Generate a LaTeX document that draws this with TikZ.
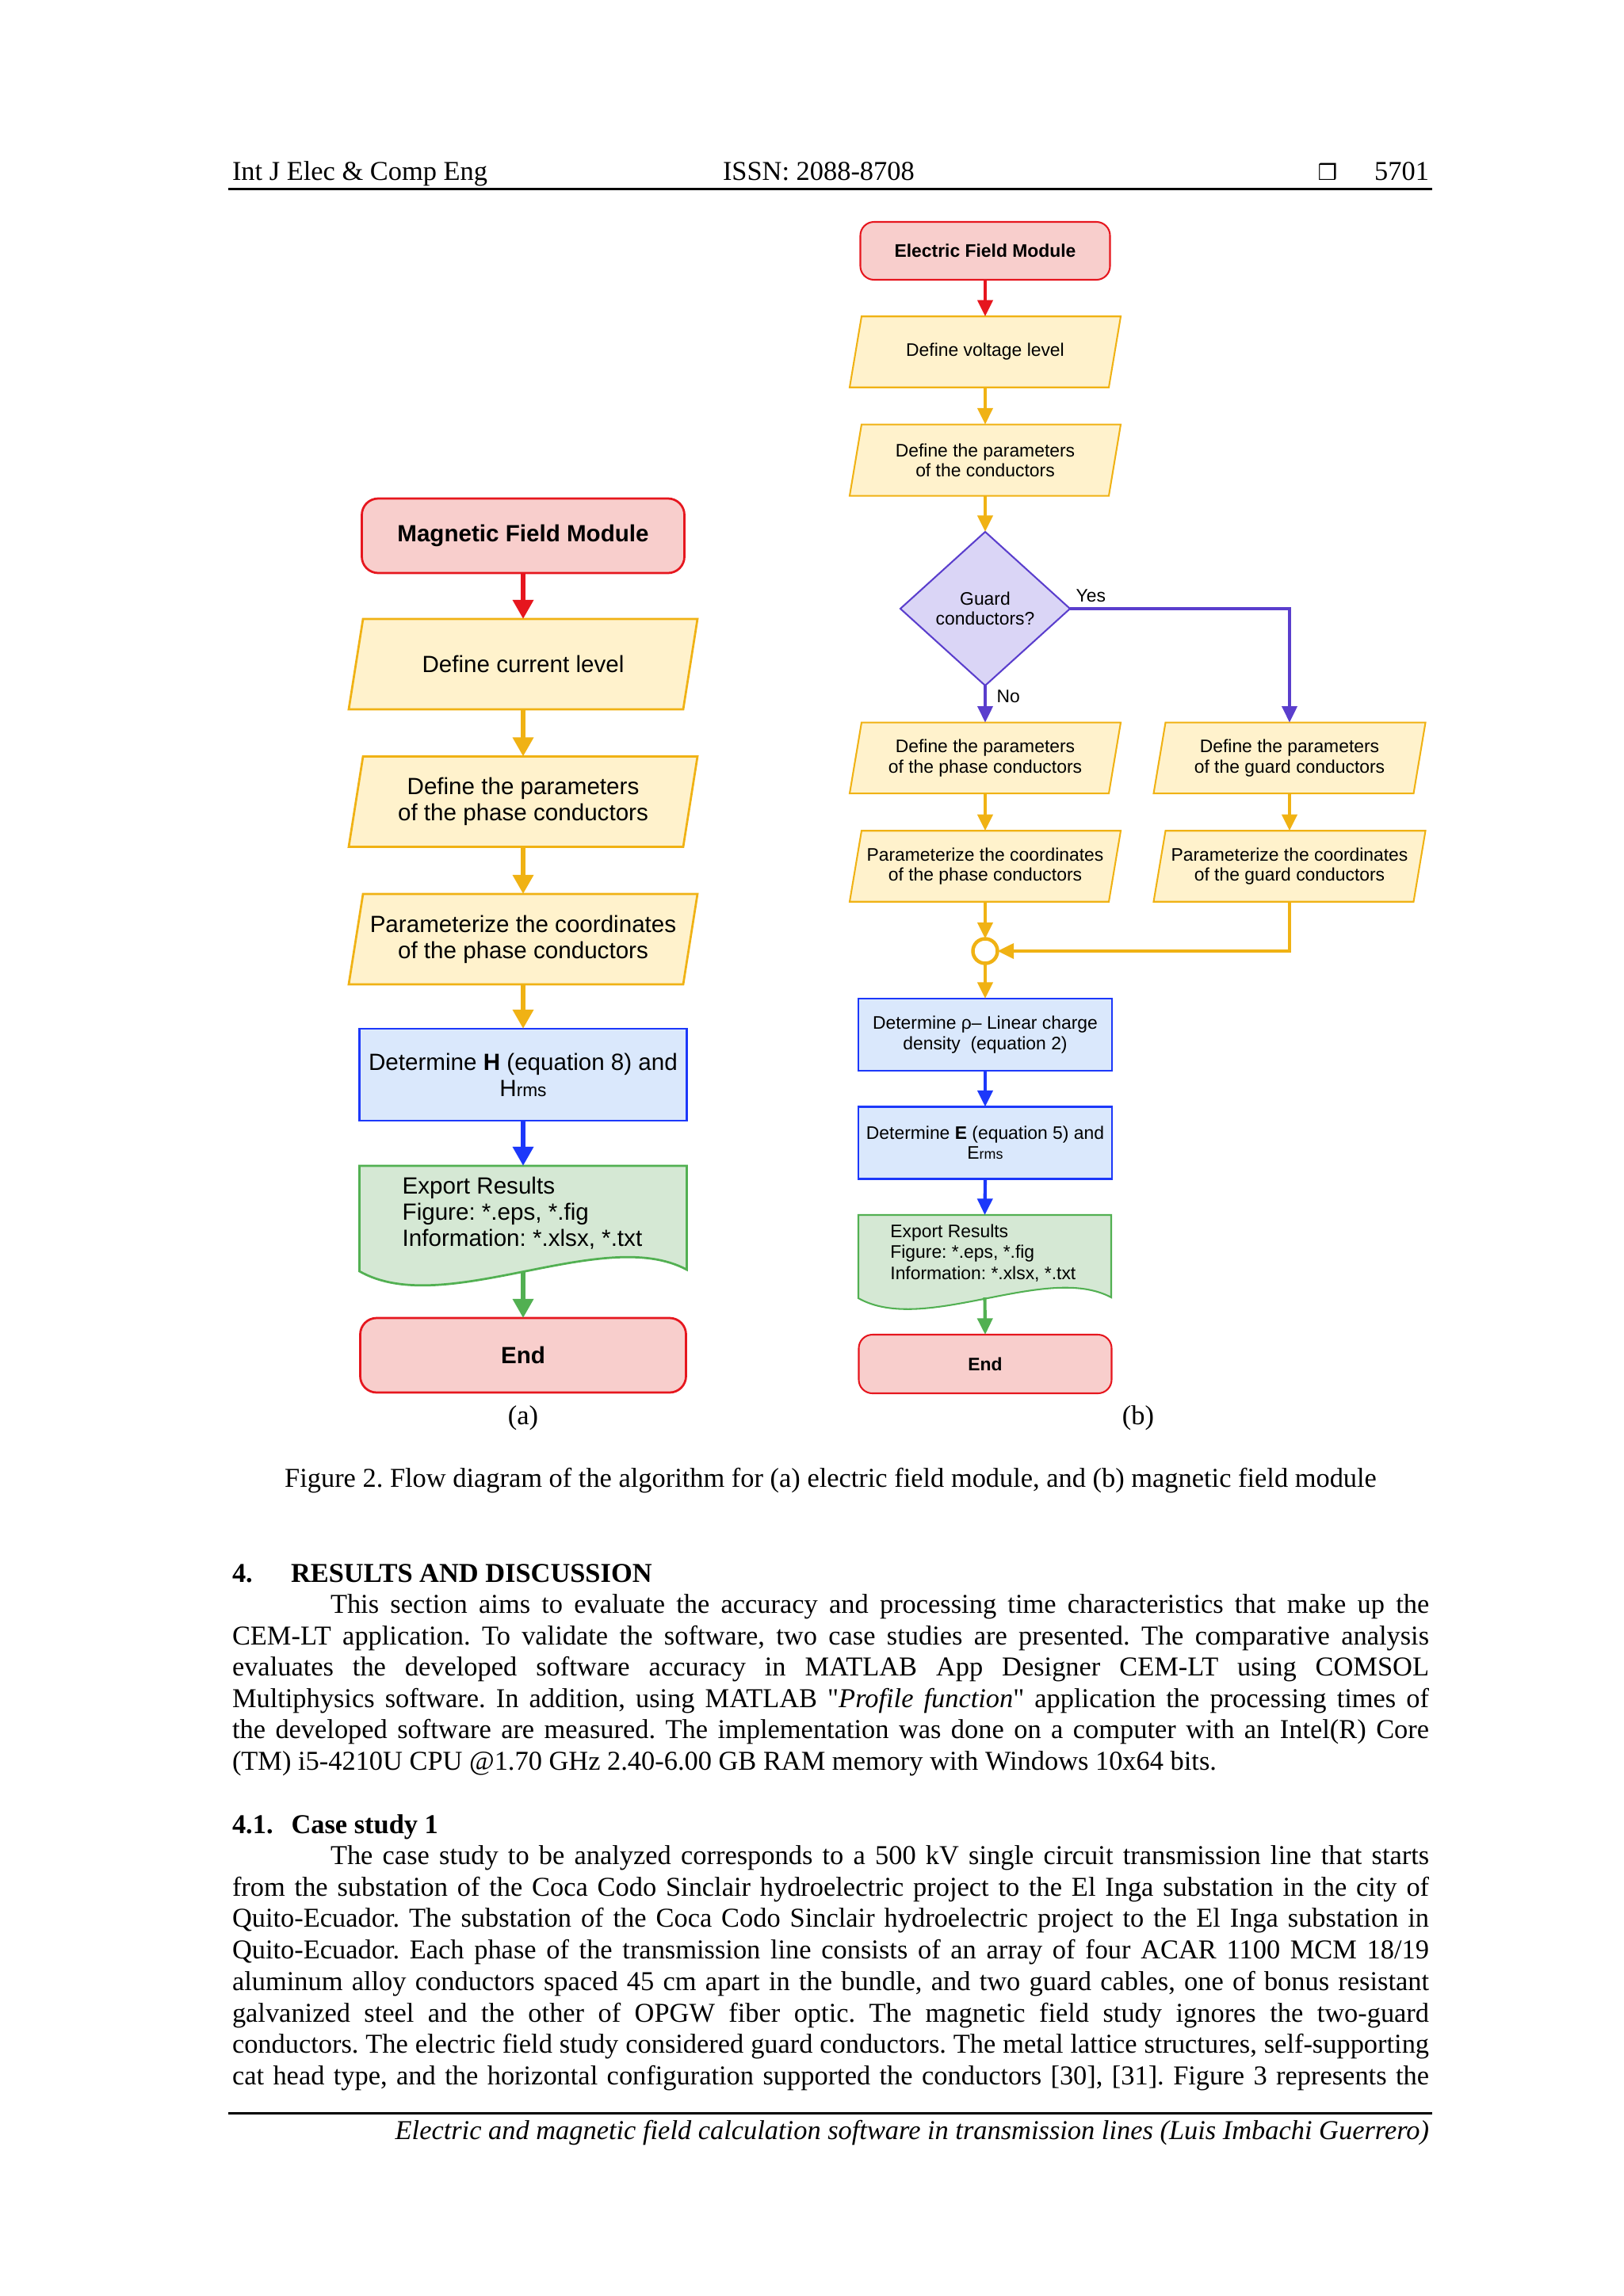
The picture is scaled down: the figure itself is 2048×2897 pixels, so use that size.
\documentclass[tikz,border=0pt]{standalone}
\usepackage{fontspec}
\setmainfont{Liberation Serif}
\setsansfont{Liberation Sans}
\newfontfamily\symfont{DejaVu Sans}
\usetikzlibrary{arrows.meta,calc}
\pgfdeclarelayer{paper}
\pgfdeclarelayer{shapes}
\pgfsetlayers{paper,shapes,main}
\definecolor{cred}{RGB}{230,22,30}
\definecolor{cpink}{RGB}{248,206,204}
\definecolor{corange}{RGB}{240,178,20}
\definecolor{cyellow}{RGB}{255,242,204}
\definecolor{cblue}{RGB}{28,56,250}
\definecolor{cbluef}{RGB}{218,232,252}
\definecolor{cgreen}{RGB}{82,176,82}
\definecolor{cgreenf}{RGB}{213,232,212}
\definecolor{cpurple}{RGB}{90,62,205}
\definecolor{clav}{RGB}{218,213,246}
\newlength\fullw \setlength\fullw{438.9pt}
\newlength\indw \setlength\indw{402.9pt}
\tikzset{
  lf/.style={font=\sffamily\fontsize{8.6}{9.6}\selectfont},
  lfb/.style={font=\sffamily\bfseries\fontsize{8.6}{9.6}\selectfont},
  rf/.style={font=\sffamily\fontsize{6.65}{7.4}\selectfont},
  rfd/.style={font=\sffamily\fontsize{6.65}{7.8}\selectfont},
  rfb/.style={font=\sffamily\bfseries\fontsize{6.65}{7.4}\selectfont},
  sz/.style 2 args={minimum width={#1*0.29067pt}, minimum height={#2*0.29067pt}},
  blank/.style={inner sep=0pt, outer sep=0pt, align=center},
  termL/.style={blank, draw=cred, fill=cpink, line width=0.8pt, rounded corners=6pt},
  termR/.style={blank, draw=cred, fill=cpink, line width=0.6pt, rounded corners=5pt},
  procL/.style={blank, draw=cblue, fill=cbluef, line width=0.8pt},
  procR/.style={blank, draw=cblue, fill=cbluef, line width=0.6pt},
  paraL/.style={draw=corange, fill=cyellow, line width=0.8pt},
  paraR/.style={draw=corange, fill=cyellow, line width=0.6pt},
  docL/.style={draw=cgreen, fill=cgreenf, line width=0.8pt},
  docR/.style={draw=cgreen, fill=cgreenf, line width=0.6pt},
  diaS/.style={draw=cpurple, fill=clav, line width=0.6pt},
  arL/.style={line width=2pt, -{Triangle[width=7.3pt,length=7pt]}},
  arR/.style={line width=1.2pt, -{Triangle[width=5.5pt,length=6pt]}},
  txt/.style={inner sep=0pt, outer sep=0pt, font=\frenchspacing\fontsize{10}{11.5}\selectfont},
  txtb/.style={txt, font=\bfseries\fontsize{10}{11.5}\selectfont},
  rule/.style={line width=0.7pt}
}
\frenchspacing
\begin{document}
\frenchspacing
\begin{tikzpicture}[x=0.29067pt,y=-0.29067pt]
\begin{pgfonlayer}{paper}
\fill[white] (0,0) rectangle (2048,2897);
\end{pgfonlayer}
\useasboundingbox (0,0) rectangle (2048,2897);

% ---------- header ----------
\node[txt, anchor=base west] (h1) at (293,227.7) {Int J Elec \& Comp Eng};
\node[txt, anchor=base west] (h2) at (912,227.7) {ISSN: 2088-8708};
\node[inner sep=0pt, anchor=base west, font=\symfont\fontsize{8}{8}\selectfont] (h3) at (1662,227.7) {❒};
\node[txt, anchor=base east] (h4) at (1803,227.7) {5701};
\coordinate (hr1) at (288,238.7);
\coordinate (hr2) at (1807,238.7);
\draw[rule] (hr1) -- (hr2);

% ---------- left flowchart (a) ----------
\node[termL, lfb, sz={407}{94}] (mfm) at (660,676) {Magnetic Field Module};
\node[blank, lf, sz={422}{114}] (p1) at (660,838) {Define current level};
\node[blank, lf, sz={422}{114}] (p2) at (660,1011.5) {Define the parameters\\of the phase conductors};
\node[blank, lf, sz={422}{114}] (p3) at (660,1185) {Parameterize the coordinates\\of the phase conductors};
\node[procL, lf, sz={413}{116}] (bl) at (660,1356) {Determine \textbf{H} (equation 8) and\\H{\fontsize{6.6}{7}\selectfont rms}};
\node[blank, sz={413}{133}] (gl) at (660,1537.5) {};
\node[lf, anchor=west, align=left, inner sep=0pt] (glt) at (507,1531) {Export Results\\Figure: *.eps, *.fig\\Information: *.xlsx, *.txt};
\node[termL, lfb, sz={411}{94}] (el) at (660,1710) {End};
\node[txt, anchor=base] (la) at (660,1797) {(a)};

% ---------- right flowchart (b) ----------
\node[termR, rfb, sz={315}{73}] (efm) at (1243,316.5) {Electric Field Module};
\node[blank, rf, sz={327}{89.5}] (pr1) at (1243,444) {Define voltage level};
\node[blank, rf, sz={327}{90}] (pr2) at (1243,580.6) {Define the parameters\\of the conductors};
\node[blank, rf, sz={214}{194}] (dia) at (1243,768) {Guard\\conductors?};
\node[blank, rf, sz={327}{89.5}] (pr3) at (1243,956.4) {Define the parameters\\of the phase conductors};
\node[blank, rf, sz={328}{89.5}] (pr4) at (1627,956.4) {Define the parameters\\of the guard conductors};
\node[blank, rf, sz={327}{89.5}] (pr5) at (1243,1093) {Parameterize the coordinates\\of the phase conductors};
\node[blank, rf, sz={328}{89.5}] (pr6) at (1627,1093) {Parameterize the coordinates\\of the guard conductors};
\node[circle, draw=corange, fill=white, line width=1.3pt, minimum size={31*0.29067pt}, inner sep=0pt, outer sep=0pt] (jn) at (1243,1200) {};
\node[procR, rf, sz={320}{91}] (br1) at (1243,1305.5) {Determine ρ– Linear charge\\density\ \ (equation 2)};
\node[procR, rf, sz={320}{91}] (br2) at (1243,1442) {Determine \textbf{E} (equation 5) and\\E{\fontsize{5.2}{6}\selectfont rms}};
\node[blank, sz={319}{104}] (gr) at (1242.5,1585) {};
\node[rfd, anchor=west, align=left, inner sep=0pt] (grt) at (1122.7,1581) {Export Results\\Figure: *.eps, *.fig\\Information: *.xlsx, *.txt};
\node[termR, rfb, sz={319}{74}] (er) at (1243,1721) {End};
\node[txt, anchor=base] (lb) at (1436,1797) {(b)};
\node[rf, anchor=west, inner sep=0pt] (yes) at (1357,752) {Yes};
\node[rf, anchor=west, inner sep=0pt] (no) at (1257,879) {No};

% ---------- shapes behind texts ----------
\begin{pgfonlayer}{shapes}
\foreach \n in {p1,p2,p3}
  \filldraw[paraL] ($(\n.north west)+(9,0)$) -- ($(\n.north east)+(9,0)$) -- ($(\n.south east)+(-9,0)$) -- ($(\n.south west)+(-9,0)$) -- cycle;
\foreach \n in {pr1,pr2,pr3,pr4,pr5,pr6}
  \filldraw[paraR] ($(\n.north west)+(7.5,0)$) -- ($(\n.north east)+(7.5,0)$) -- ($(\n.south east)+(-7.5,0)$) -- ($(\n.south west)+(-7.5,0)$) -- cycle;
\filldraw[diaS] (dia.north) -- (dia.east) -- (dia.south) -- (dia.west) -- cycle;
\filldraw[docL] (gl.south west) -- (gl.north west) -- (gl.north east) -- ($(gl.south east)+(0,-2)$)
  .. controls ($(gl.south east)+(-106,-59)$) and ($(gl.south east)+(-306,61)$) .. (gl.south west) -- cycle;
\filldraw[docR] ($(gr.south west)+(0,1)$) -- (gr.north west) -- (gr.north east) -- (gr.south east)
  .. controls ($(gr.south east)+(-82,-44)$) and ($(gr.south east)+(-236,48)$) .. ($(gr.south west)+(0,1)$) -- cycle;
\end{pgfonlayer}

% ---------- connectors (a) ----------
\draw[arL, cred] (mfm.south) -- (p1.north);
\draw[arL, corange] (p1.south) -- (p2.north);
\draw[arL, corange] (p2.south) -- (p3.north);
\draw[arL, corange] (p3.south) -- (bl.north);
\draw[arL, cblue] (bl.south) -- (gl.north);
\draw[arL, cgreen] (gl.south) -- (el.north);

% ---------- connectors (b) ----------
\draw[arR, cred] (efm.south) -- (pr1.north);
\draw[arR, corange] (pr1.south) -- (pr2.north);
\draw[arR, corange] (pr2.south) -- (dia.north);
\draw[arR, cpurple] (dia.south) -- (pr3.north);
\draw[arR, cpurple] (dia.east) -| (pr4.north);
\draw[arR, corange] (pr3.south) -- (pr5.north);
\draw[arR, corange] (pr4.south) -- (pr6.north);
\draw[arR, corange] (pr5.south) -- (jn.north);
\draw[arR, corange] (pr6.south) |- (jn.east);
\draw[arR, corange] (jn.south) -- (br1.north);
\draw[arR, cblue] (br1.south) -- (br2.north);
\draw[arR, cblue] (br2.south) -- (gr.north);
\draw[arR, cgreen] (gr.south) -- (er.north);

% ---------- caption and body ----------
\node[txt, anchor=base] (cap) at (1048,1876) {Figure 2. Flow diagram of the algorithm for (a) electric field module, and (b) magnetic field module};

\node[txtb, anchor=base west] (s4n) at (293,1996) {4.};
\node[txtb, anchor=base west] (s4) at (367,1996) {RESULTS AND DISCUSSION};
\node[txt, anchor=base west] (a1) at (417,2035.5) {\makebox[\indw][s]{This section aims to evaluate the accuracy and processing time characteristics that make up the}};
\node[txt, anchor=base west] (a2) at (293,2075) {\makebox[\fullw][s]{CEM-LT application. To validate the software, two case studies are presented. The comparative analysis}};
\node[txt, anchor=base west] (a3) at (293,2114.5) {\makebox[\fullw][s]{evaluates the developed software accuracy in MATLAB App Designer CEM-LT using COMSOL}};
\node[txt, anchor=base west] (a4) at (293,2154) {\makebox[\fullw][s]{Multiphysics software. In addition, using MATLAB \textquotedbl\textit{Profile function}\textquotedbl{} application the processing times of}};
\node[txt, anchor=base west] (a5) at (293,2193.5) {\makebox[\fullw][s]{the developed software are measured. The implementation was done on a computer with an Intel(R) Core}};
\node[txt, anchor=base west] (a6) at (293,2233) {(TM) i5-4210U CPU @1.70 GHz 2.40-6.00 GB RAM memory with Windows 10x64 bits.};

\node[txtb, anchor=base west] (s41n) at (293,2313) {4.1.};
\node[txtb, anchor=base west] (s41) at (367.5,2313) {Case study 1};
\node[txt, anchor=base west] (b1) at (417,2352.5) {\makebox[\indw][s]{The case study to be analyzed corresponds to a 500 kV single circuit transmission line that starts}};
\node[txt, anchor=base west] (b2) at (293,2392.2) {\makebox[\fullw][s]{from the substation of the Coca Codo Sinclair hydroelectric project to the El Inga substation in the city of}};
\node[txt, anchor=base west] (b3) at (293,2431.9) {\makebox[\fullw][s]{Quito-Ecuador. The substation of the Coca Codo Sinclair hydroelectric project to the El Inga substation in}};
\node[txt, anchor=base west] (b4) at (293,2471.6) {\makebox[\fullw][s]{Quito-Ecuador. Each phase of the transmission line consists of an array of four ACAR 1100 MCM 18/19}};
\node[txt, anchor=base west] (b5) at (293,2511.3) {\makebox[\fullw][s]{aluminum alloy conductors spaced 45 cm apart in the bundle, and two guard cables, one of bonus resistant}};
\node[txt, anchor=base west] (b6) at (293,2551) {\makebox[\fullw][s]{galvanized steel and the other of OPGW fiber optic. The magnetic field study ignores the two-guard}};
\node[txt, anchor=base west] (b7) at (293,2590.7) {\makebox[\fullw][s]{conductors. The electric field study considered guard conductors. The metal lattice structures, self-supporting}};
\node[txt, anchor=base west] (b8) at (293,2630.4) {\makebox[\fullw][s]{cat head type, and the horizontal configuration supported the conductors [30], [31]. Figure 3 represents the}};

% ---------- footer ----------
\coordinate (fr1) at (288,2666.5);
\coordinate (fr2) at (1807,2666.5);
\draw[rule] (fr1) -- (fr2);
\node[txt, anchor=base east, font=\itshape\fontsize{10}{11.5}\selectfont] (foot) at (1803,2699) {Electric and magnetic field calculation software in transmission lines (Luis Imbachi Guerrero)};
\end{tikzpicture}
\end{document}
